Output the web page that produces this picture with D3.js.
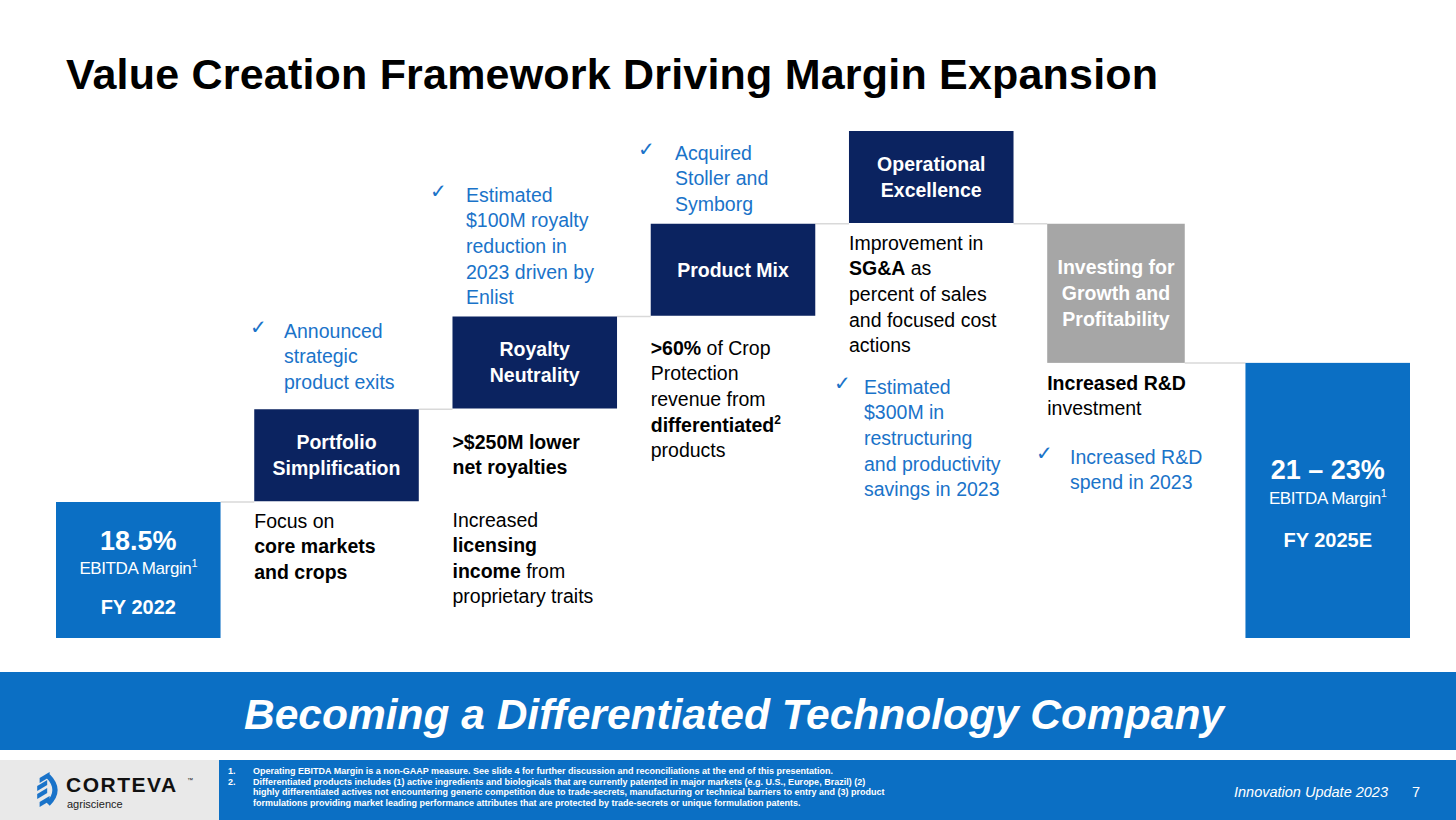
<!DOCTYPE html>
<html>
<head>
<meta charset="utf-8">
<script src="https://d3js.org/d3.v7.min.js"></script>
<style>
  body { margin: 0; background: #fff; font-family: "Liberation Sans", Arial, sans-serif; }
</style>
</head>
<body>
<script>
// Step data
var stepNames = ["FY 2022", "Portfolio Simplification", "Royalty Neutrality", "Product Mix",
                 "Operational Excellence", "Investing for Growth and Profitability", "FY 2025E"];
var stepLabels = [[], ["Portfolio", "Simplification"], ["Royalty", "Neutrality"], ["Product Mix"],
                  ["Operational", "Excellence"], ["Investing for", "Growth and", "Profitability"], []];
var stepLevels = [0, 1, 2, 3, 4, 3, 1.5];
var stepKinds = ["margin", "lever", "lever", "lever", "lever", "invest", "margin"];
var marginValues = ["18.5%", "21 – 23%"];
var marginYears = ["FY 2022", "FY 2025E"];

// text blocks: [[segment, bold], ...] per line
var belowText = [
  null,
  [[["Focus on", 0]], [["core markets", 1]], [["and crops", 1]]],
  [[[">$250M lower", 1]], [["net royalties", 1]], [["", 0]], [["Increased", 0]], [["licensing", 1]], [["income", 1], [" from", 0]], [["proprietary traits", 0]]],
  [[[">60%", 1], [" of Crop", 0]], [["Protection", 0]], [["revenue from", 0]], [["differentiated", 1], ["2", 2]], [["products", 0]]],
  [[["Improvement in", 0]], [["SG&A", 1], [" as", 0]], [["percent of sales", 0]], [["and focused cost", 0]], [["actions", 0]]],
  [[["Increased R&D", 1]], [["investment", 0]]],
  null
];
var checkNotes = [
  { step: 1, lines: ["Announced", "strategic", "product exits"] },
  { step: 2, lines: ["Estimated", "$100M royalty", "reduction in", "2023 driven by", "Enlist"] },
  { step: 3, lines: ["Acquired", "Stoller and", "Symborg"] },
  { step: 4, lines: ["Estimated", "$300M in", "restructuring", "and productivity", "savings in 2023"] },
  { step: 5, lines: ["Increased R&D", "spend in 2023"] }
];
var footnotes = [
  ["1.", ["Operating EBITDA Margin is a non-GAAP measure. See slide 4 for further discussion and reconciliations at the end of this presentation."]],
  ["2.", ["Differentiated products includes (1) active ingredients and biologicals that are currently patented in major markets (e.g. U.S., Europe, Brazil) (2)",
          "highly differentiated actives not encountering generic competition due to trade-secrets, manufacturing or technical barriers to entry and (3) product",
          "formulations providing market leading performance attributes that are protected by trade-secrets or unique formulation patents."]]
];

var W = 1456, H = 820;
var blue = "#0b6fc4", navy = "#0b2360", grey = "#a6a6a6", noteBlue = "#1a73c9";
var svg = d3.select("body").append("svg").attr("width", W).attr("height", H);

svg.append("text").attr("x", 66).attr("y", 89).attr("font-size", 43).attr("font-weight", "bold")
  .attr("fill", "#000").attr("letter-spacing", 0.2).text("Value Creation Framework Driving Margin Expansion");

var x = d3.scaleBand().domain(d3.range(stepNames.length)).range([56, 1410]).paddingInner(0.17).paddingOuter(0);
var y = d3.scaleLinear().domain([0, 4]).range([502, 131]);
var bottomY = 638, boxH = 92;

function boxTop(i) { return y(stepLevels[i]); }
function boxBottom(i) { return stepKinds[i] === "margin" ? bottomY : (stepKinds[i] === "invest" ? y(1.5) : boxTop(i) + boxH); }
function boxW(i) { return stepKinds[i] === "invest" ? x.bandwidth() - 27 : x.bandwidth(); }

// connecting grey lines at the lower step's top
for (var i = 0; i < stepNames.length - 1; i++) {
  var ly = y(Math.min(stepLevels[i], stepLevels[i + 1]));
  svg.append("line").attr("x1", x(i) + boxW(i)).attr("x2", x(i + 1))
    .attr("y1", ly).attr("y2", ly).attr("stroke", "#d9d9d9").attr("stroke-width", 1.5);
}

svg.selectAll("rect.step").data(stepNames).enter().append("rect").attr("class", "step")
  .attr("x", function(d, i) { return x(i); })
  .attr("y", function(d, i) { return boxTop(i); })
  .attr("width", function(d, i) { return boxW(i); })
  .attr("height", function(d, i) { return boxBottom(i) - boxTop(i); })
  .attr("fill", function(d, i) { return stepKinds[i] === "margin" ? blue : stepKinds[i] === "invest" ? grey : navy; });

// lever labels
stepLabels.forEach(function(lines, i) {
  if (!lines.length) return;
  var cy = (boxTop(i) + boxBottom(i)) / 2;
  var lh = 26;
  lines.forEach(function(t, k) {
    svg.append("text").attr("x", x(i) + boxW(i) / 2).attr("y", cy + (k - (lines.length - 1) / 2) * lh)
      .attr("dy", "0.35em").attr("text-anchor", "middle").attr("fill", "#fff")
      .attr("font-size", 19.5).attr("font-weight", "bold").text(t);
  });
});

// margin boxes
[0, 6].forEach(function(i, m) {
  var cx = x(i) + boxW(i) / 2;
  var t0 = m === 0 ? 541 : 470;
  var t1 = m === 0 ? 568 : 498;
  var t2 = m === 0 ? 607 : 540;
  svg.append("text").attr("x", cx).attr("y", t0).attr("dy", "0.35em").attr("text-anchor", "middle")
    .attr("fill", "#fff").attr("font-size", 27).attr("font-weight", "bold").text(marginValues[m]);
  var e = svg.append("text").attr("x", cx).attr("y", t1).attr("dy", "0.35em").attr("text-anchor", "middle")
    .attr("fill", "#fff").attr("font-size", 17).attr("letter-spacing", -0.4);
  e.append("tspan").text("EBITDA Margin");
  e.append("tspan").attr("font-size", 11).attr("dy", "-0.6em").text("1");
  svg.append("text").attr("x", cx).attr("y", t2).attr("dy", "0.35em").attr("text-anchor", "middle")
    .attr("fill", "#fff").attr("font-size", 20).attr("font-weight", "bold").text(marginYears[m]);
});

// below texts
var belowStart = [0, 521, 442, 348, 243, 383, 0];
belowText.forEach(function(lines, i) {
  if (!lines) return;
  lines.forEach(function(segs, k) {
    var yy = belowStart[i] + k * 25.6 + (i === 2 && k >= 3 ? 1 : 0);
    var t = svg.append("text").attr("x", x(i)).attr("y", yy).attr("dy", "0.35em")
      .attr("fill", "#000").attr("font-size", 19.5);
    segs.forEach(function(s) {
      var sp = t.append("tspan").text(s[0]);
      if (s[1] === 1) sp.attr("font-weight", "bold");
      if (s[1] === 2) sp.attr("font-weight", "bold").attr("font-size", 12).attr("dy", "-0.6em");
    });
  });
});

// check notes
var noteStart = { 1: 331, 2: 195, 3: 153, 4: 387, 5: 457 };
var noteCheckX = { 1: 250, 2: 430, 3: 638, 4: 834, 5: 1036 };
var noteTextX = { 1: 284, 2: 466, 3: 675, 4: 864, 5: 1070 };
checkNotes.forEach(function(n) {
  var y0 = noteStart[n.step];
  svg.append("text").attr("x", noteCheckX[n.step]).attr("y", y0 - 4).attr("dy", "0.35em")
    .attr("fill", noteBlue).attr("font-size", 20).attr("font-family", "DejaVu Sans").text("✓");
  n.lines.forEach(function(l, k) {
    svg.append("text").attr("x", noteTextX[n.step]).attr("y", y0 + k * 25.6).attr("dy", "0.35em")
      .attr("fill", noteBlue).attr("font-size", 19.5).text(l);
  });
});

// banner
svg.append("rect").attr("x", 0).attr("y", 672).attr("width", W).attr("height", 78).attr("fill", blue);
svg.append("text").attr("x", 734).attr("y", 714).attr("dy", "0.35em").attr("text-anchor", "middle")
  .attr("fill", "#fff").attr("font-size", 42.5).attr("font-weight", "bold").attr("font-style", "italic")
  .text("Becoming a Differentiated Technology Company");

// footer
svg.append("rect").attr("x", 0).attr("y", 760).attr("width", 219).attr("height", 60).attr("fill", "#e9e9e9");
svg.append("rect").attr("x", 219).attr("y", 760).attr("width", W - 219).attr("height", 60).attr("fill", blue);
// logo mark
var lg = svg.append("g").attr("transform", "translate(44,790)");
[-12, -4, 4, 12].forEach(function(o, k) {
  lg.append("path").attr("d", "M" + (-8 + Math.abs(o) * 0.3) + "," + o + " l10,-6 l0,5 l-10,6 z").attr("fill", "#1a73c9");
});
lg.append("path").attr("d", "M4,-14 q14,14 0,28").attr("stroke", "#1a73c9").attr("stroke-width", 5).attr("fill", "none");
svg.append("text").attr("x", 66).attr("y", 792).attr("font-size", 21).attr("font-weight", "bold")
  .attr("letter-spacing", 1.5).attr("fill", "#111").text("CORTEVA");
svg.append("text").attr("x", 187).attr("y", 782).attr("font-size", 6).attr("fill", "#111").text("™");
svg.append("text").attr("x", 67).attr("y", 808).attr("font-size", 11).attr("fill", "#222").text("agriscience");

var fy = 774;
footnotes.forEach(function(f) {
  svg.append("text").attr("x", 228).attr("y", fy).attr("fill", "#fff").attr("font-size", 9).attr("font-weight", "bold").text(f[0]);
  f[1].forEach(function(l) {
    svg.append("text").attr("x", 253).attr("y", fy).attr("fill", "#fff").attr("font-size", 9).attr("font-weight", "bold")
      .attr("textLength", null).text(l);
    fy += 10.5;
  });
});
svg.append("text").attr("x", 1388).attr("y", 797).attr("text-anchor", "end").attr("fill", "#fff")
  .attr("font-size", 14.5).attr("font-style", "italic").text("Innovation Update 2023");
svg.append("text").attr("x", 1420).attr("y", 797).attr("text-anchor", "end").attr("fill", "#fff")
  .attr("font-size", 14.5).text("7");
</script>
</body>
</html>
